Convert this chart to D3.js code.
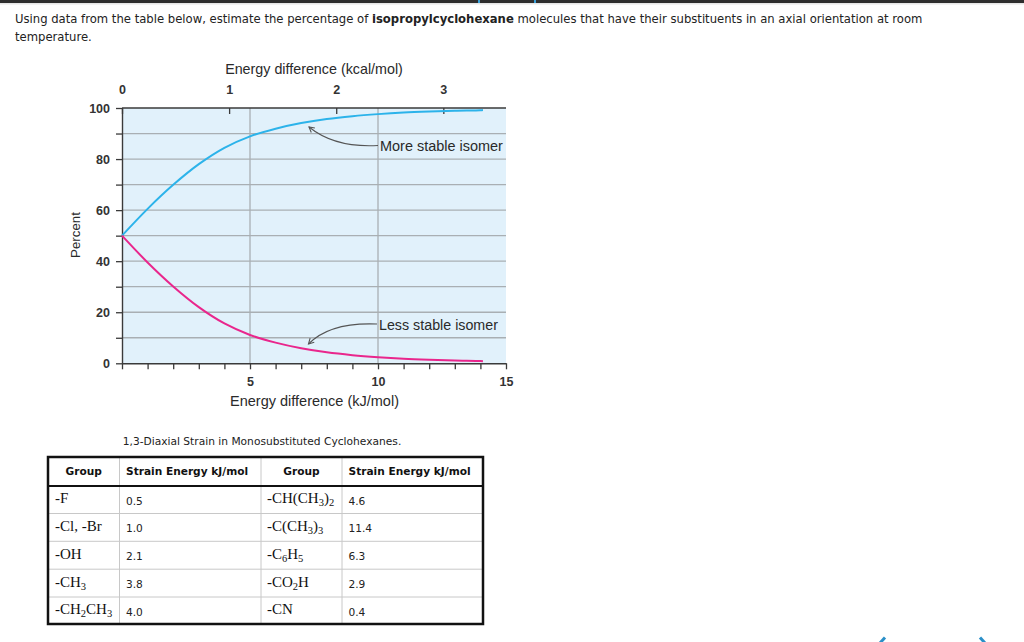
<!DOCTYPE html>
<html>
<head>
<meta charset="utf-8">
<script src="https://cdn.jsdelivr.net/npm/d3@7"></script>
<style>
html,body{margin:0;padding:0;background:#fff;}
svg{display:block;}
</style>
</head>
<body>
<svg id="c" width="1024" height="642"></svg>
<script>
// ---------- data ----------
const energyKJ   = [0, 1, 2, 3, 4, 5, 6, 7, 8, 9, 10, 11, 12, 13, 14, 14.1];
const moreStable = [50, 60.5, 69.9, 78.0, 84.4, 88.9, 91.9, 94.1, 95.7, 96.8, 97.6, 98.2, 98.6, 98.9, 99.1, 99.2];
const lessStable = [50, 39.5, 30.1, 22.0, 15.6, 11.1, 8.1, 5.9, 4.3, 3.2, 2.4, 1.8, 1.4, 1.1, 0.9, 0.8];
const percentTicks = [0, 10, 20, 30, 40, 50, 60, 70, 80, 90, 100];
const kjTicks = [0, 1, 2, 3, 4, 5, 6, 7, 8, 9, 10, 11, 12, 13, 14, 15];
const kcalTicks = [0, 1, 2, 3];
const kjGrid = [5, 10];
const KJ_PER_KCAL = 4.184;

const questionPre = "Using data from the table below, estimate the percentage of ";
const questionBold = "isopropylcyclohexane";
const questionPost = " molecules that have their substituents in an axial orientation at room";
const questionLine2 = "temperature.";
const tableCaption = "1,3-Diaxial Strain in Monosubstituted Cyclohexanes.";
const tableHeaders = ["Group", "Strain Energy kJ/mol", "Group", "Strain Energy kJ/mol"];
// group formulas as [text, isSubscript] pieces
const groupsLeft = [
  [["-F",0]],
  [["-Cl, -Br",0]],
  [["-OH",0]],
  [["-CH",0],["3",1]],
  [["-CH",0],["2",1],["CH",0],["3",1]]
];
const strainLeft = ["0.5", "1.0", "2.1", "3.8", "4.0"];
const groupsRight = [
  [["-CH(CH",0],["3",1],[")",0],["2",1]],
  [["-C(CH",0],["3",1],[")",0],["3",1]],
  [["-C",0],["6",1],["H",0],["5",1]],
  [["-CO",0],["2",1],["H",0]],
  [["-CN",0]]
];
const strainRight = ["4.6", "11.4", "6.3", "2.9", "0.4"];

// ---------- helpers ----------
const svg = d3.select("#c");
function fit(sel, target) {
  const w = sel.node().getComputedTextLength();
  const fs = parseFloat(sel.attr("font-size"));
  if (w > 0) sel.attr("font-size", (fs * target / w).toFixed(3));
  return sel;
}

// ---------- page chrome ----------
svg.append("rect").attr("x",0).attr("y",0).attr("width",1024).attr("height",3).attr("fill","#2e2e2e");
svg.append("rect").attr("x",0).attr("y",3).attr("width",1024).attr("height",1.5).attr("fill","#e6e6e6");
svg.append("rect").attr("x",478).attr("y",0).attr("width",2).attr("height",3).attr("fill","#3aa0d8");
svg.append("rect").attr("x",534).attr("y",0).attr("width",2).attr("height",3).attr("fill","#3aa0d8");
// partially visible nav chevrons at the bottom edge
svg.append("path").attr("d","M885,637.5L880,643").attr("stroke","#2a8fc8").attr("stroke-width",3).attr("fill","none");
svg.append("path").attr("d","M980,637.5L985,643").attr("stroke","#2a8fc8").attr("stroke-width",3).attr("fill","none");

// question text
const q1 = svg.append("text").attr("x",15).attr("y",22.5)
  .attr("font-family","Verdana, 'DejaVu Sans', sans-serif").attr("font-size",12.5).attr("fill","#222");
q1.append("tspan").text(questionPre);
q1.append("tspan").attr("font-weight","bold").text(questionBold);
q1.append("tspan").text(questionPost);
fit(q1, 908);
svg.append("text").attr("x",15).attr("y",40.5)
  .attr("font-family","Verdana, 'DejaVu Sans', sans-serif").attr("font-size",q1.attr("font-size")).attr("fill","#222")
  .text(questionLine2);

// ---------- chart ----------
const x = d3.scaleLinear().domain([0, 15]).range([122, 506]);
const xk = d3.scaleLinear().domain([0, 15 / KJ_PER_KCAL]).range([122, 506]);
const y = d3.scaleLinear().domain([0, 100]).range([363.3, 108]);
const chartFont = "'Liberation Sans', Arial, Helvetica, sans-serif";
const axisColor = "#3a3a3a";

const g = svg.append("g");
g.append("rect").attr("x", x(0)).attr("y", y(100)).attr("width", x(15) - x(0)).attr("height", y(0) - y(100))
  .attr("fill", "#e1f1fb");

// grid
g.append("g").selectAll("line").data(percentTicks.filter(d => d > 0 && d < 100)).join("line")
  .attr("x1", x(0)).attr("x2", x(15)).attr("y1", d => y(d)).attr("y2", d => y(d))
  .attr("stroke", "#a9afb3").attr("stroke-width", 1.3);
g.append("g").selectAll("line").data(kjGrid).join("line")
  .attr("x1", d => x(d)).attr("x2", d => x(d)).attr("y1", y(0)).attr("y2", y(100))
  .attr("stroke", "#a9afb3").attr("stroke-width", 1.3);

// axes
function styleAxis(sel, fs) {
  sel.selectAll("path.domain").attr("stroke", axisColor).attr("stroke-width", 1.4);
  sel.selectAll(".tick line").attr("stroke", axisColor).attr("stroke-width", 1.3);
  sel.selectAll(".tick text").attr("font-family", chartFont).attr("font-size", fs)
    .attr("font-weight", "bold").attr("fill", "#333");
}
const ax = g.append("g").attr("transform", `translate(${x(0)},0)`)
  .call(d3.axisLeft(y).tickValues(percentTicks).tickFormat(d => d % 20 === 0 ? d : "")
    .tickSize(6).tickSizeOuter(0).tickPadding(6));
styleAxis(ax, 12.5);
const bx = g.append("g").attr("transform", `translate(0,${y(0)})`)
  .call(d3.axisBottom(x).tickValues(kjTicks).tickFormat(d => d % 5 === 0 && d > 0 ? d : "")
    .tickSize(6).tickSizeOuter(0).tickPadding(8));
styleAxis(bx, 12.5);
const tx = g.append("g").attr("transform", `translate(0,${y(100)})`)
  .call(d3.axisTop(xk).tickValues(kcalTicks).tickFormat(d3.format("d"))
    .tickSize(-6).tickSizeOuter(0).tickPadding(14));
styleAxis(tx, 12.5);
tx.select("path.domain").attr("d", `M${x(0)},0H${x(15)}`);

// axis titles
fit(g.append("text").attr("x", 314).attr("y", 74).attr("text-anchor", "middle")
  .attr("font-family", chartFont).attr("font-size", 13.5).attr("fill", "#2a2a2a")
  .text("Energy difference (kcal/mol)"), 178);
fit(g.append("text").attr("x", 314.5).attr("y", 406).attr("text-anchor", "middle")
  .attr("font-family", chartFont).attr("font-size", 13.5).attr("fill", "#2a2a2a")
  .text("Energy difference (kJ/mol)"), 169);
fit(g.append("text").attr("transform", "translate(80,235) rotate(-90)").attr("text-anchor", "middle")
  .attr("font-family", chartFont).attr("font-size", 13).attr("fill", "#2a2a2a")
  .text("Percent"), 46);

// curves
const line = d3.line().x(d => x(d[0])).y(d => y(d[1])).curve(d3.curveCatmullRom.alpha(0.5));
g.append("path").datum(energyKJ.map((e, i) => [e, moreStable[i]]))
  .attr("d", line).attr("fill", "none").attr("stroke", "#2cb3ea").attr("stroke-width", 2);
g.append("path").datum(energyKJ.map((e, i) => [e, lessStable[i]]))
  .attr("d", line).attr("fill", "none").attr("stroke", "#e9268c").attr("stroke-width", 2);

// annotations
function arrow(x0, y0, cx, cy, x1, y1) {
  g.append("path").attr("d", `M${x0},${y0}Q${cx},${cy} ${x1},${y1}`)
    .attr("fill", "none").attr("stroke", "#555").attr("stroke-width", 1.1);
  const ang = Math.atan2(y1 - cy, x1 - cx);
  const L = 6, a = 0.5;
  g.append("path").attr("d",
    `M${x1 - L * Math.cos(ang - a)},${y1 - L * Math.sin(ang - a)}L${x1},${y1}L${x1 - L * Math.cos(ang + a)},${y1 - L * Math.sin(ang + a)}`)
    .attr("fill", "none").attr("stroke", "#555").attr("stroke-width", 1.1);
}
arrow(378, 145.5, 335, 148, 309, 127);
arrow(377, 324, 330, 322, 308.5, 344);
fit(g.append("text").attr("x", 380).attr("y", 150.5).attr("font-family", chartFont)
  .attr("font-size", 14).attr("fill", "#2a2a2a").text("More stable isomer"), 123);
fit(g.append("text").attr("x", 379).attr("y", 329.5).attr("font-family", chartFont)
  .attr("font-size", 14).attr("fill", "#2a2a2a").text("Less stable isomer"), 119);

// ---------- table ----------
const tfont = "Verdana, 'DejaVu Sans', sans-serif";
const serif = "'Liberation Serif', 'Times New Roman', serif";
fit(svg.append("text").attr("x", 262).attr("y", 445).attr("text-anchor", "middle")
  .attr("font-family", tfont).attr("font-size", 11).attr("fill", "#222").text(tableCaption), 279);

const colX = [48, 119.5, 261, 342, 483];
const rowY = [457, 486, 513.5, 541.3, 569.2, 597, 624];
const tb = svg.append("g");
tb.selectAll("line.v").data(colX.slice(1, 4)).join("line")
  .attr("x1", d => d).attr("x2", d => d).attr("y1", rowY[0]).attr("y2", rowY[6])
  .attr("stroke", "#c8c8c8").attr("stroke-width", 1);
tb.selectAll("line.h").data(rowY.slice(2, 6)).join("line")
  .attr("x1", colX[0]).attr("x2", colX[4]).attr("y1", d => d).attr("y2", d => d)
  .attr("stroke", "#c8c8c8").attr("stroke-width", 1);
tb.append("line").attr("x1", colX[0]).attr("x2", colX[4]).attr("y1", rowY[1]).attr("y2", rowY[1])
  .attr("stroke", "#111").attr("stroke-width", 2);
tb.append("rect").attr("x", colX[0]).attr("y", rowY[0]).attr("width", colX[4] - colX[0])
  .attr("height", rowY[6] - rowY[0]).attr("fill", "none").attr("stroke", "#111").attr("stroke-width", 2.5);

const hdr = [
  {t: tableHeaders[0], x: (colX[0] + colX[1]) / 2, anchor: "middle"},
  {t: tableHeaders[1], x: colX[1] + 6.5, anchor: "start"},
  {t: tableHeaders[2], x: (colX[2] + colX[3]) / 2, anchor: "middle"},
  {t: tableHeaders[3], x: colX[3] + 6.5, anchor: "start"}
];
hdr.forEach(h => {
  tb.append("text").attr("x", h.x).attr("y", 475).attr("text-anchor", h.anchor)
    .attr("font-family", tfont).attr("font-size", 10.6).attr("font-weight", "bold").attr("fill", "#111").text(h.t);
});

function formula(xp, yp, pieces) {
  const t = tb.append("text").attr("x", xp).attr("y", yp).attr("font-family", serif)
    .attr("font-size", 15).attr("fill", "#111");
  let sub = false;
  pieces.forEach(p => {
    const ts = t.append("tspan").text(p[0]);
    if (p[1] && !sub) { ts.attr("font-size", 10.5).attr("dy", 3); sub = true; }
    else if (p[1] && sub) { ts.attr("font-size", 10.5); }
    else if (!p[1] && sub) { ts.attr("dy", -3); sub = false; }
  });
}
for (let i = 0; i < 5; i++) {
  const yc = (rowY[i + 1] + rowY[i + 2]) / 2;
  formula(colX[0] + 7, yc + 3.5, groupsLeft[i]);
  formula(colX[2] + 6, yc + 3.5, groupsRight[i]);
  tb.append("text").attr("x", colX[1] + 6.5).attr("y", yc + 5).attr("font-family", tfont)
    .attr("font-size", 10.6).attr("fill", "#222").text(strainLeft[i]);
  tb.append("text").attr("x", colX[3] + 6.5).attr("y", yc + 5).attr("font-family", tfont)
    .attr("font-size", 10.6).attr("fill", "#222").text(strainRight[i]);
}
</script>
</body>
</html>
